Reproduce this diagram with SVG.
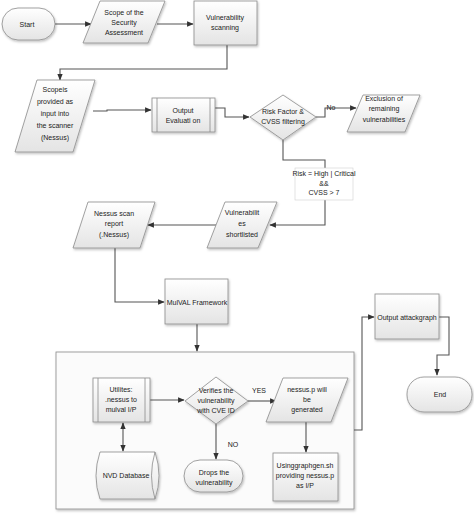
<svg xmlns="http://www.w3.org/2000/svg" width="474" height="519" viewBox="0 0 474 519">
<defs>
<linearGradient id="g" x1="0" y1="0" x2="0" y2="1"><stop offset="0" stop-color="#ffffff"/><stop offset="1" stop-color="#e4e4e4"/></linearGradient>
<filter id="sh" x="-10%" y="-10%" width="130%" height="130%"><feDropShadow dx="1" dy="1.5" stdDeviation="1" flood-color="#000" flood-opacity="0.25"/></filter>
<marker id="ar" viewBox="0 0 10 10" refX="9" refY="5" markerWidth="6" markerHeight="6" orient="auto-start-reverse"><path d="M0,1 L10,5 L0,9 Z" fill="#333"/></marker>
</defs>
<style>
.s{fill:url(#g);stroke:#8a8a8a;stroke-width:0.8;filter:url(#sh)}
.c{fill:none;stroke:#555;stroke-width:1.1}
text{font-family:"Liberation Sans",Arial,sans-serif;font-size:7px;fill:#222;text-anchor:middle}
</style>
<rect x="0" y="0" width="474" height="519" fill="#fff"/>
<g id="container"><rect x="56" y="352" width="298" height="157" fill="#fbfbfb" stroke="#8a8a8a" stroke-width="0.8" filter="url(#sh)"/></g>
<g id="connectors">
<path class="c" d="M55,24 H91" marker-end="url(#ar)"/>
<path class="c" d="M157,24 H193" marker-end="url(#ar)"/>
<path class="c" d="M227,45 V69 H60 V80" marker-end="url(#ar)"/>
<path class="c" d="M93,111 H107 V110 H151" marker-end="url(#ar)"/>
<path class="c" d="M215,108 H225 V117 H249" marker-end="url(#ar)"/>
<path class="c" d="M316,117 H325 V108 H356" marker-end="url(#ar)"/>
<path class="c" d="M283,140 V160 H325 V168"/>
<path class="c" d="M325,200 V225 H270" marker-end="url(#ar)"/>
<path class="c" d="M216,225 H148" marker-end="url(#ar)"/>
<path class="c" d="M115,248 V302 H164" marker-end="url(#ar)"/>
<path class="c" d="M197,324 V351" marker-end="url(#ar)"/>
<path class="c" d="M150,400 H184" marker-end="url(#ar)"/>
<path class="c" d="M248,401 H276" marker-end="url(#ar)"/>
<path class="c" d="M216,424 V459" marker-end="url(#ar)"/>
<path class="c" d="M306,422 V452" marker-end="url(#ar)"/>
<path class="c" d="M123,423 V451" stroke-width="1.6" marker-start="url(#ar)" marker-end="url(#ar)"/>
<path class="c" d="M354,430 H362 V317 H374" marker-end="url(#ar)"/>
<path class="c" d="M439,317 H449 V355 H437 V375" marker-end="url(#ar)"/>
<text x="331" y="110" font-size="6.5">No</text>
<text x="259" y="393" font-size="6.5">YES</text>
<text x="233" y="447" font-size="6.5">NO</text>
</g>
<g id="start"><rect class="s" x="2" y="8" width="53" height="32" rx="16"/><text x="27" y="27" font-size="8.5">Start</text></g>
<g id="scope"><path class="s" d="M100,1 H165 L148,43 H83 Z"/><text x="124" y="15">Scope of the</text><text x="124" y="25">Security</text><text x="124" y="35">Assessment</text></g>
<g id="vuln-scan"><rect class="s" x="194" y="1" width="63" height="44"/><text x="225" y="20">Vulnerability</text><text x="225" y="30">scanning</text></g>
<g id="scope-input"><path class="s" d="M37,80 H95 L73,152 H15 Z"/><text x="55" y="92">Scopeis</text><text x="55" y="104">provided as</text><text x="55" y="116">input into</text><text x="55" y="128">the scanner</text><text x="55" y="140">(Nessus)</text></g>
<g id="output-eval"><rect class="s" x="152" y="98" width="63" height="34"/><path d="M157,98 V132 M210,98 V132" stroke="#8a8a8a" stroke-width="0.8"/><text x="183" y="113">Output</text><text x="183" y="123">Evaluati on</text></g>
<g id="risk-filter"><path class="s" d="M283,95 L316,117 L283,140 L250,117 Z"/><text x="283" y="114">Risk Factor &amp;</text><text x="283" y="124">CVSS filtering</text></g>
<g id="exclusion"><path class="s" d="M363,95 H420 L405,132 H347 Z"/><text x="384" y="101">Exclusion of</text><text x="384" y="111">remaining</text><text x="384" y="122">vulnerabilities</text></g>
<g id="risk-label"><rect x="295" y="168" width="58" height="32" fill="#fff" stroke="#d0d0d0" stroke-width="0.6"/><text x="324" y="176" font-size="6.5">Risk = High | Critical</text><text x="324" y="186" font-size="6.5">&amp;&amp;</text><text x="324" y="195" font-size="6.5">CVSS &gt; 7</text></g>
<g id="shortlisted"><path class="s" d="M225,202 H277 L258,248 H207 Z"/><text x="242" y="215">Vulnerabilit</text><text x="242" y="226">es</text><text x="242" y="237">shortlisted</text></g>
<g id="nessus-report"><path class="s" d="M88,202 H155 L140,248 H73 Z"/><text x="114" y="216">Nessus scan</text><text x="114" y="226">report</text><text x="114" y="237">(.Nessus)</text></g>
<g id="mulval"><rect class="s" x="165" y="279" width="63" height="45"/><text x="197" y="305" font-size="6.5">MulVAL Framework</text></g>
<g id="output-graph"><rect class="s" x="375" y="294" width="64" height="45"/><text x="407" y="320" font-size="6.5">Output attackgraph</text></g>
<g id="end"><rect class="s" x="407" y="377" width="65" height="35" rx="17"/><text x="440" y="397">End</text></g>
<g id="utilities"><rect class="s" x="93" y="378" width="57" height="44"/><path d="M98,378 V422 M145,378 V422" stroke="#8a8a8a" stroke-width="0.8"/><text x="121" y="392">Utilites:</text><text x="121" y="402">.nessus to</text><text x="121" y="412">mulval I/P</text></g>
<g id="verify"><path class="s" d="M216,377 L248,401 L216,424 L185,401 Z"/><text x="216" y="393" font-size="6.5">Verifies the</text><text x="216" y="403" font-size="6.5">vulnerability</text><text x="216" y="413" font-size="6.5">with CVE ID</text></g>
<g id="nessus-p"><path class="s" d="M283,378 H348 L331,422 H266 Z"/><text x="307" y="392">nessus.p will</text><text x="307" y="402">be</text><text x="307" y="412">generated</text></g>
<g id="nvd"><path class="s" d="M100,452 H155 Q163,476 155,499 H100 Q92,476 100,452 Z"/><path d="M155,452 Q148,476 155,499" fill="none" stroke="#8a8a8a" stroke-width="0.8"/><text x="126" y="478">NVD Database</text></g>
<g id="drops"><rect class="s" x="184" y="460" width="59" height="32" rx="16"/><text x="214" y="475">Drops the</text><text x="214" y="485">vulnerability</text></g>
<g id="graphgen"><rect class="s" x="273" y="453" width="65" height="48"/><text x="305" y="468" font-size="6.5">Usinggraphgen.sh</text><text x="305" y="478" font-size="6.5">providing nessus.p</text><text x="305" y="488" font-size="6.5">as I/P</text></g>
</svg>
